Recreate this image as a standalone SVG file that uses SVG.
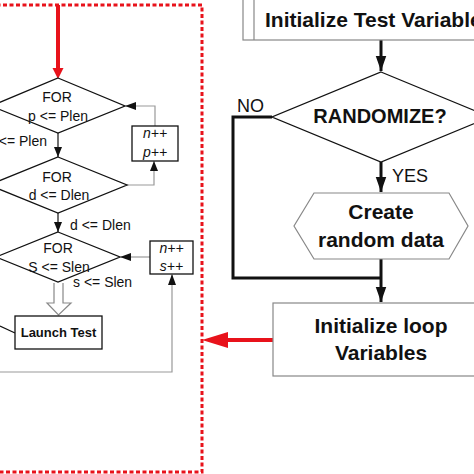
<svg xmlns="http://www.w3.org/2000/svg" width="474" height="474" viewBox="0 0 474 474">
<style>
text{font-family:"Liberation Sans",Arial,sans-serif;fill:#111}
.t{font-size:14px;text-anchor:middle}
.it{font-size:14px;text-anchor:middle;font-style:italic}
.b{font-size:21px;font-weight:bold;text-anchor:middle}
.lbl{font-size:14px}
.shape{fill:#fff;stroke:#111;stroke-width:1.3}
.gshape{fill:#fff;stroke:#888;stroke-width:1.2}
.thin{fill:none;stroke:#111;stroke-width:1.2}
.gray{fill:none;stroke:#999;stroke-width:1.2}
.thick{fill:none;stroke:#111;stroke-width:3}
.red{fill:none;stroke:#e8121b;stroke-width:4}
</style>
<defs>
<marker id="ah" viewBox="0 0 10 10" refX="10" refY="5" markerWidth="10" markerHeight="10" markerUnits="userSpaceOnUse" orient="auto"><path d="M0,1 L10,5 L0,9 Z" fill="#111"/></marker>
<marker id="ahT" viewBox="0 0 10 10" refX="10" refY="5" markerWidth="15" markerHeight="15" markerUnits="userSpaceOnUse" orient="auto"><path d="M0,1.5 L10,5 L0,8.5 Z" fill="#111"/></marker>
</defs>

<rect id="loop-frame" x="-10" y="5" width="212" height="467" fill="none" stroke="#e8121b" stroke-width="3" stroke-dasharray="4 2.5"/>

<g id="connectors">
  <path class="red" d="M58,5 V70"/>
  <path d="M52.5,68 L63.5,68 L58,79 Z" fill="#e8121b"/>
  <path class="red" d="M273,340 H226"/>
  <path d="M228,332 L228,348 L202,340 Z" fill="#e8121b"/>
  <path class="thin" d="M58,133 V157" marker-end="url(#ah)"/>
  <path class="gray" d="M127,185 H154 V161"/>
  <path d="M150,171 L158,171 L154,161 Z" fill="#111"/>
  <path class="gray" d="M155,126 V106 H126"/>
  <path d="M136,102 L136,110 L125,106 Z" fill="#111"/>
  <path class="thin" d="M58,213 V232" marker-end="url(#ah)"/>
  <path class="gray" d="M150,257 H121"/>
  <path d="M131,253 L131,261 L120,257 Z" fill="#111"/>
  <path class="gray" d="M0,372 H172 V275"/>
  <path d="M168,285 L176,285 L172,274 Z" fill="#111"/>
  <path d="M54,283 V303 H47 L58.5,315 L71,303 H63 V283" fill="#fff" stroke="#888" stroke-width="1.2"/>
  <path class="thin" d="M0,326 L15,333"/>
  <path class="thick" d="M381,40 V71" marker-end="url(#ahT)"/>
  <path class="thick" d="M381,162 V192" marker-end="url(#ahT)"/>
  <path class="thick" d="M272,117 H233 V278 H381"/>
  <path class="thick" d="M381,259 V302" marker-end="url(#ahT)"/>
</g>

<g id="for-p">
  <polygon class="shape" points="58,78 125,106 58,133 -9,106"/>
  <text class="t" x="57" y="102">FOR</text>
  <text class="t" x="58" y="121">p &lt;= Plen</text>
</g>
<text class="lbl" x="47" y="146" text-anchor="end">&lt;= Plen</text>
<g id="for-d">
  <polygon class="shape" points="58,157 127,185 58,213 -11,185"/>
  <text class="t" x="57" y="182">FOR</text>
  <text class="t" x="59" y="200">d &lt;= Dlen</text>
</g>
<text class="lbl" x="70" y="230">d &lt;= Dlen</text>
<g id="for-s">
  <polygon class="shape" points="58,232 120,257 58,282 -4,257"/>
  <text class="t" x="58" y="253">FOR</text>
  <text class="t" x="59" y="272">S &lt;= Slen</text>
</g>
<text class="lbl" x="73" y="287">s &lt;= Slen</text>
<g id="inc-np">
  <rect class="shape" x="132" y="126" width="46" height="35"/>
  <text class="it" x="155" y="138">n++</text>
  <text class="it" x="155" y="157">p++</text>
</g>
<g id="inc-ns">
  <rect class="shape" x="150" y="241" width="43" height="33"/>
  <text class="it" x="171.5" y="253">n++</text>
  <text class="it" x="171.5" y="271">s++</text>
</g>
<g id="launch">
  <rect class="shape" x="15" y="316" width="87" height="33"/>
  <text x="58.5" y="337" style="font-size:13px;font-weight:bold;text-anchor:middle">Launch Test</text>
</g>

<g id="init-test">
  <rect class="gshape" x="243" y="-20" width="260" height="60"/>
  <line x1="254" y1="-20" x2="254" y2="40" stroke="#888" stroke-width="1.2"/>
  <text x="265" y="27" style="font-size:21px;font-weight:bold;text-anchor:start">Initialize Test Variables</text>
</g>
<g id="randomize">
  <polygon class="shape" points="381,72 490,117 381,162 272,117"/>
  <text x="380" y="123" style="font-size:20px;font-weight:bold;text-anchor:middle">RANDOMIZE?</text>
</g>
<text x="237" y="112" font-size="18px">NO</text>
<text x="392" y="182" font-size="18px">YES</text>
<g id="create">
  <polygon class="gshape" points="314,193 449,193 468,226 449,259 314,259 294,226"/>
  <text class="b" x="381" y="219">Create</text>
  <text class="b" x="381" y="247">random data</text>
</g>
<g id="init-loop">
  <rect class="gshape" x="273" y="303" width="230" height="73"/>
  <text class="b" x="381" y="333">Initialize loop</text>
  <text class="b" x="381" y="360">Variables</text>
</g>
</svg>
